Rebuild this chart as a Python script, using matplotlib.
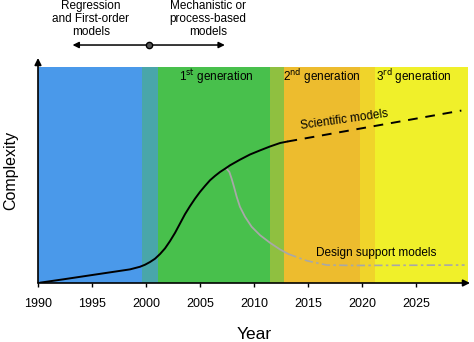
import matplotlib
matplotlib.use("Agg")
import matplotlib.pyplot as plt

plt.rcParams['font.family'] = ['Liberation Sans', 'DejaVu Sans']

# ---- data ----
band_edges = [1990, 1999.6, 2001.1, 2011.5, 2012.8, 2019.8, 2021.2, 2029.8]
band_colors = ['#4a99ea', '#49a6aa', '#48c04c', '#8fc040', '#edbc2e', '#f0d42a', '#f0f02a']

sci_years = [1990.19, 1992.35, 1995.43, 1998.52, 1999.44, 1999.91, 2000.37, 2000.83,
             2001.30, 2001.76, 2002.22, 2002.69, 2003.15, 2003.61, 2004.07, 2004.54,
             2005.00, 2005.46, 2005.93, 2006.39, 2006.85, 2007.31, 2007.78, 2008.70,
             2009.63, 2010.56, 2011.48, 2012.41, 2013.10]
sci_vals = [0.15, 1.7, 4.0, 6.3, 7.5, 8.45, 9.7, 11.2,
            13.4, 16.0, 19.35, 23.2, 27.5, 31.8, 35.5, 39.0,
            42.1, 44.85, 47.5, 49.5, 51.3, 52.8, 54.4, 57.0,
            59.4, 61.3, 63.1, 64.7, 65.4]
sci_future_years = [2013.1, 2029.2]
sci_future_vals = [65.4, 79.7]

design_years = [2007.47, 2007.72, 2007.93, 2008.15, 2008.40, 2008.70, 2009.17,
                2009.78, 2010.56, 2011.48, 2012.41, 2013.18]
design_vals = [52.8, 51.3, 48.2, 44.4, 39.8, 35.2, 30.6,
               26.0, 22.1, 18.6, 15.5, 13.4]
design_future_years = [2013.18, 2014.88, 2016.73, 2019.2, 2029.5]
design_future_vals = [13.4, 10.3, 8.3, 8.1, 8.3]

xticks = [1990, 1995, 2000, 2005, 2010, 2015, 2020, 2025]

fig = plt.figure(figsize=(4.74, 3.42), dpi=100)
ax = fig.add_axes([38/474, 1 - 283/342, 432/474, 225/342])
ax.set_xlim(1990, 2030)
ax.set_ylim(0, 104)

for i, c in enumerate(band_colors):
    ax.axvspan(band_edges[i], band_edges[i + 1], ymin=0, ymax=100/104,
               color=c, lw=0, zorder=0)

ax.plot(sci_years, sci_vals, color='black', lw=1.4, zorder=3,
        solid_capstyle='round', solid_joinstyle='round')
ax.plot(sci_future_years, sci_future_vals, color='black', lw=1.4,
        dashes=(5, 4), zorder=3)
ax.plot(design_years, design_vals, color='#a8a8a8', lw=1.3, zorder=2,
        solid_joinstyle='round')
ax.plot(design_future_years, design_future_vals, color='#a8a8a8', lw=1.2,
        dashes=(5, 2, 1.5, 2), zorder=2)

for s in ax.spines.values():
    s.set_visible(False)
ax.annotate('', xy=(1.0, 0), xytext=(0, 0), xycoords='axes fraction',
            arrowprops=dict(arrowstyle='-|>', color='black', lw=1.2,
                            mutation_scale=10, shrinkA=0, shrinkB=0), zorder=5)
ax.annotate('', xy=(0, 1.0), xytext=(0, 0), xycoords='axes fraction',
            arrowprops=dict(arrowstyle='-|>', color='black', lw=1.2,
                            mutation_scale=10, shrinkA=0, shrinkB=0), zorder=5)

ax.set_xticks(xticks)
ax.set_xticklabels([str(t) for t in xticks], fontsize=9)
ax.tick_params(axis='x', length=3, width=1, pad=8)
ax.set_yticks([])
ax.set_xlabel('Year', fontsize=12.5, labelpad=12)
ax.set_ylabel('Complexity', fontsize=11.5, labelpad=14)

# generation labels
ax.text(2006.5, 95.5, r'1$^{\mathrm{st}}$ generation', ha='center', va='center', fontsize=8.5)
ax.text(2016.3, 95.5, r'2$^{\mathrm{nd}}$ generation', ha='center', va='center', fontsize=8.5)
ax.text(2024.8, 95.5, r'3$^{\mathrm{rd}}$ generation', ha='center', va='center', fontsize=8.5)

ax.text(2018.4, 75.5, 'Scientific models', ha='center', va='center', fontsize=8.5,
        rotation=8)
ax.text(2021.3, 14, 'Design support models', ha='center', va='center', fontsize=8.5)

# top arrow
ax.annotate('', xy=(1993.2, 110), xytext=(2007.3, 110), xycoords='data',
            arrowprops=dict(arrowstyle='<|-|>', color='black', lw=1.1,
                            mutation_scale=9, shrinkA=0, shrinkB=0),
            annotation_clip=False)
ax.plot([2000.3], [110], 'o', ms=4.5, mfc='#555555', mec='black', mew=1,
        clip_on=False, zorder=6)
fig.text(91/474, 1 - 19/342, 'Regression\nand First-order\nmodels', ha='center',
         va='center', fontsize=8.5, linespacing=1.15)
fig.text(208/474, 1 - 19/342, 'Mechanistic or\nprocess-based\nmodels', ha='center',
         va='center', fontsize=8.5, linespacing=1.15)

fig.savefig('out.png', dpi=100)
